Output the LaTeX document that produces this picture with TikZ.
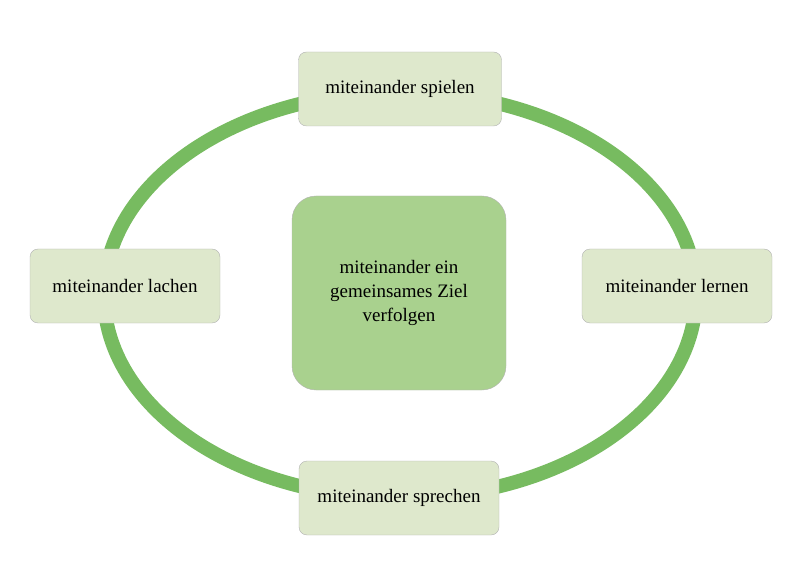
\documentclass[tikz,border=0pt]{standalone}
\usepackage{fontspec}
\setmainfont{Liberation Serif}
\definecolor{ringgreen}{RGB}{119,187,96}
\definecolor{boxfill}{RGB}{222,232,204}
\definecolor{corefill}{RGB}{169,209,142}
\tikzset{
  smallbox/.style={draw=black!30, fill=boxfill, rounded corners=8pt, minimum width=190pt, minimum height=74pt, font=\fontsize{19}{23}\selectfont, align=center},
  corebox/.style={draw=black!30, fill=corefill, rounded corners=24pt, minimum width=214pt, minimum height=194pt, font=\fontsize{19}{24}\selectfont, align=center},
  ring/.style={draw=ringgreen, line width=14pt}
}
\begin{document}
\begin{tikzpicture}[x=1pt,y=-1pt]
\useasboundingbox (0,0) rectangle (800,585);
% ring
\coordinate (mid) at (400,295);
\path [ring] (mid) ellipse [x radius=296, y radius=203];
% boxes
\node (core) [corebox] at (399,293) {miteinander ein\\gemeinsames Ziel\\verfolgen};
\node (top) [smallbox, minimum width=203pt] at (400,89) {miteinander spielen};
\node (left) [smallbox] at (125,286) {miteinander lachen};
\node (right) [smallbox] at (677,286) {miteinander lernen};
\node (bottom) [smallbox, minimum width=200pt] at (399,498) {miteinander sprechen};
\end{tikzpicture}
\end{document}
